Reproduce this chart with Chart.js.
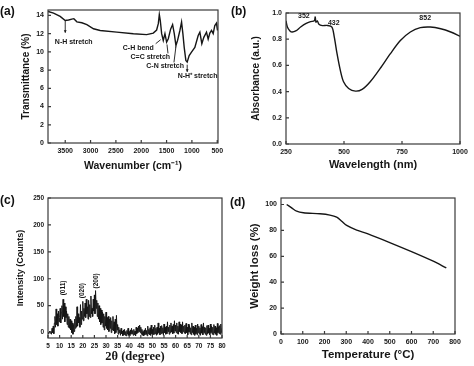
<!DOCTYPE html>
<html>
<head>
<meta charset="utf-8">
<script src="https://cdn.jsdelivr.net/npm/chart.js@4.4.1/dist/chart.umd.min.js"></script>
<style>
  body { margin: 0; background: #fff; width: 474px; height: 366px; position: relative; overflow: hidden; font-family: "Liberation Sans", Arial, sans-serif; }
  canvas { position: absolute; }
  .tag { position: absolute; font-weight: bold; font-size: 12px; color: #111; }
</style>
</head>
<body>
<canvas id="ftir" width="237" height="183" style="left:0;top:0"></canvas>
<canvas id="uv" width="237" height="183" style="left:237px;top:0"></canvas>
<canvas id="xrd" width="237" height="183" style="left:0;top:183px"></canvas>
<canvas id="tga" width="237" height="183" style="left:237px;top:183px"></canvas>
<div class="tag" style="left:0;top:4px">(a)</div>
<div class="tag" style="left:231px;top:4px">(b)</div>
<div class="tag" style="left:0;top:193px">(c)</div>
<div class="tag" style="left:230px;top:195px">(d)</div>
<script>
// (a) FTIR
const ftirWave = [3840, 3730, 3600, 3500, 3434, 3370, 3330, 3270, 3172, 3073, 2942, 2811, 2483, 2155, 1893, 1762, 1696, 1663, 1643, 1624, 1597, 1565, 1532, 1499, 1466, 1420, 1381, 1348, 1315, 1283, 1237, 1204, 1178, 1152, 1119, 1093, 1054, 1008, 942, 876, 843, 804, 765, 712, 679, 646, 613, 580, 548, 515, 495];
const ftirTrans = [14.44, 14.25, 13.9, 13.45, 13.5, 13.6, 13.65, 13.3, 13.2, 13.0, 12.54, 12.35, 12.17, 11.99, 11.9, 12.06, 12.4, 13.1, 14.1, 13.45, 12.0, 11.26, 12.0, 11.07, 11.44, 12.5, 13.0, 12.0, 10.7, 11.26, 12.35, 13.27, 12.0, 10.5, 9.06, 8.88, 9.6, 9.98, 10.5, 11.8, 12.17, 10.9, 11.6, 12.17, 11.4, 12.06, 12.35, 12.0, 12.9, 13.16, 12.35];
const ftirTicksX = [3500, 3000, 2500, 2000, 1500, 1000, 500];
const ftirTicksY = [0, 2, 4, 6, 8, 10, 12, 14];

// (b) UV-vis
const uvWave = [250, 256, 267, 277, 292, 313, 335, 356, 372, 376, 379, 385, 392, 407, 428, 448, 458, 470, 484, 498, 520, 549, 578, 613, 656, 700, 743, 786, 829, 872, 917, 960, 1000];
const uvAbs = [0.94, 0.893, 0.863, 0.855, 0.863, 0.893, 0.919, 0.934, 0.94, 0.97, 0.93, 0.94, 0.914, 0.904, 0.905, 0.893, 0.817, 0.69, 0.564, 0.475, 0.424, 0.404, 0.417, 0.475, 0.577, 0.69, 0.79, 0.855, 0.888, 0.893, 0.88, 0.855, 0.822];
const uvTicksX = [250, 500, 750, 1000];
const uvTicksY = [0, 0.2, 0.4, 0.6, 0.8, 1.0];

// (c) XRD, one value every 0.25 degree from 5 to 80
const xrdCounts = [
  0, -2, 1, 3,   -1, 2, -3, 8,   0, 12, -2, 18,   30, 10, 44, 15,   35, 12, 40, 20,
  28, 45, 18, 38,   50, 25, 62, 30,   55, 20, 48, 28,   40, 15, 35, 10,   30, 8, 25, 5,
  22, 0, 18, -3,   15, 2, 25, 8,   30, 10, 48, 12,   35, 18, 28, 10,   52, 15, 40, 25,
  58, 22, 45, 30,   55, 28, 62, 35,   48, 25, 60, 30,   52, 28, 68, 35,   45, 30, 62, 40,
  70, 35, 78, 45,   60, 30, 55, 25,   50, 20, 45, 15,   42, 18, 38, 10,   35, 5, 30, 12,
  38, 8, 28, 5,   30, 2, 25, 8,   28, 0, 22, 5,   30, 3, 20, -2,   25, 0, 32, 5,
  15, -3, 10, 0,   5, -5, 8, -2,   3, -6, 5, -4,   6, -5, 2, -6,   4, -3, 8, -5,
  2, -6, 5, -3,   8, -2, 4, -5,   6, -4, 3, -6,   10, -2, 8, 0,   12, 2, 14, 0,
  10, -3, 6, -5,   2, -6, 5, -4,   8, -3, 4, -6,   12, -2, 6, -4,   9, -5, 14, -2,
  6, -4, 10, -3,   14, -2, 8, -5,   10, -3, 18, 0,   8, -4, 12, -2,   13, -1, 9, -5,
  16, 0, 10, -3,   12, -2, 20, 2,   10, -3, 14, 0,   18, 1, 12, -2,   15, -1, 22, 3,
  14, 0, 18, -2,   12, -3, 20, 2,   16, 0, 14, -2,   20, 2, 12, -1,   14, -2, 17, 0,
  10, -4, 16, 1,   13, -2, 9, -4,   18, 0, 12, -3,   10, -5, 14, -2,   8, -4, 16, 0,
  12, -3, 9, -5,   15, -1, 11, -4,   18, 0, 10, -3,   9, -5, 13, -2,   14, -1, 8, -4,
  16, 0, 12, -3,   10, -4, 15, -1,   12, -3, 9, -5,   17, 0, 11, -2,   13, -3, 16, 0,
  8
];
const xrdAngle = xrdCounts.map((v, i) => 5 + i * 0.25);
const xrdTicksX = [5, 10, 15, 20, 25, 30, 35, 40, 45, 50, 55, 60, 65, 70, 75, 80];
const xrdTicksY = [0, 50, 100, 150, 200, 250];

// (d) TGA
const tgaTemp = [26, 49, 72, 103, 179, 225, 256, 279, 302, 348, 400, 500, 600, 700, 760];
const tgaWeight = [100, 97.4, 94.8, 93.6, 92.8, 91.8, 90.2, 87.1, 83.8, 80.2, 77.3, 70.6, 63.6, 56.2, 51];
const tgaTicksX = [0, 100, 200, 300, 400, 500, 600, 700, 800];
const tgaTicksY = [0, 20, 40, 60, 80, 100];

const ink = '#161616';

// box round the plot area, with small ticks pointing inward
const frame = {
  id: 'frame',
  afterDatasetsDraw(chart) {
    const { ctx, chartArea: a, scales: { x, y } } = chart;
    ctx.save();
    ctx.strokeStyle = '#3a3a3a';
    ctx.lineWidth = 1.2;
    ctx.strokeRect(a.left, a.top, a.right - a.left, a.bottom - a.top);
    ctx.beginPath();
    x.ticks.forEach(t => {
      const p = x.getPixelForValue(t.value);
      ctx.moveTo(p, a.bottom); ctx.lineTo(p, a.bottom - 3);
    });
    y.ticks.forEach(t => {
      const p = y.getPixelForValue(t.value);
      ctx.moveTo(a.left, p); ctx.lineTo(a.left + 3, p);
    });
    ctx.stroke();
    ctx.restore();
  }
};

// text labels and arrows, placed in data units
const notes = {
  id: 'notes',
  afterDraw(chart, args, opts) {
    const { ctx, scales: { x, y } } = chart;
    ctx.save();
    ctx.fillStyle = ink;
    ctx.strokeStyle = ink;
    ctx.lineWidth = 0.9;
    ctx.font = 'bold ' + (opts.size || 7) + 'px "Liberation Sans", Arial, sans-serif';
    ctx.textAlign = 'center';
    ctx.textBaseline = 'middle';
    (opts.texts || []).forEach(n => {
      const px = x.getPixelForValue(n.x), py = y.getPixelForValue(n.y);
      ctx.save();
      ctx.translate(px, py);
      if (n.rot) ctx.rotate(n.rot);
      ctx.fillText(n.t, 0, 0);
      ctx.restore();
    });
    (opts.lines || []).forEach(l => {
      const x1 = x.getPixelForValue(l.x1), y1 = y.getPixelForValue(l.y1);
      const x2 = x.getPixelForValue(l.x2), y2 = y.getPixelForValue(l.y2);
      ctx.beginPath(); ctx.moveTo(x1, y1); ctx.lineTo(x2, y2); ctx.stroke();
      if (l.head) {
        const ang = Math.atan2(y2 - y1, x2 - x1);
        ctx.beginPath();
        ctx.moveTo(x2, y2);
        ctx.lineTo(x2 - 3 * Math.cos(ang - 0.5), y2 - 3 * Math.sin(ang - 0.5));
        ctx.lineTo(x2 - 3 * Math.cos(ang + 0.5), y2 - 3 * Math.sin(ang + 0.5));
        ctx.closePath(); ctx.fill();
      }
    });
    ctx.restore();
  }
};

function panel(id, o) {
  const tickFont = { size: o.tickSize || 7, weight: 'bold', family: '"Liberation Sans", Arial, sans-serif' };
  return new Chart(document.getElementById(id), {
    type: 'line',
    data: {
      datasets: [{
        data: o.xs.map((v, i) => ({ x: v, y: o.ys[i] })),
        borderColor: ink,
        borderWidth: o.lw,
        pointRadius: 0,
        tension: o.tension || 0
      }]
    },
    options: {
      responsive: false,
      animation: false,
      layout: { padding: { top: o.top, right: o.right, left: 0, bottom: 0 } },
      plugins: { legend: { display: false }, tooltip: { enabled: false }, notes: o.notes || {} },
      scales: {
        x: {
          type: 'linear', reverse: !!o.rev, min: o.xmin, max: o.xmax,
          afterBuildTicks: s => { s.ticks = o.xt.map(v => ({ value: v })); },
          afterFit: s => { s.height = o.xh; },
          grid: { display: false, drawTicks: false }, border: { display: false },
          ticks: { color: ink, font: tickFont, padding: 4, maxRotation: 0, autoSkip: false, callback: v => String(v) },
          title: { display: true, text: o.xTitle, color: ink, font: o.xFont, padding: { top: 0, bottom: o.xPad } }
        },
        y: {
          type: 'linear', min: o.ymin, max: o.ymax,
          afterBuildTicks: s => { s.ticks = o.yt.map(v => ({ value: v })); },
          afterFit: s => { s.width = o.yw; },
          grid: { display: false, drawTicks: false }, border: { display: false },
          ticks: { color: ink, font: tickFont, padding: 4, autoSkip: false, callback: o.yFmt || (v => String(v)) },
          title: { display: true, text: o.yTitle, color: ink, font: o.yFont, padding: { top: o.yPad, bottom: 0 } }
        }
      }
    },
    plugins: [frame, notes]
  });
}

const sans = s => ({ size: s, weight: 'bold', family: '"Liberation Sans", Arial, sans-serif' });

panel('ftir', {
  xs: ftirWave, ys: ftirTrans, lw: 1.4, rev: true,
  xmin: 485, xmax: 3840, ymin: 0, ymax: 14.6, xt: ftirTicksX, yt: ftirTicksY,
  top: 10, right: 19, yw: 48, xh: 40,
  xTitle: 'Wavenumber (cm\u207B\u00B9)', xFont: sans(10.5), xPad: 11,
  yTitle: 'Transmittance (%)', yFont: sans(10), yPad: 20,
  notes: {
    texts: [
      { t: 'N-H stretch', x: 3333, y: 11.04 },
      { t: 'C-H bend', x: 2057, y: 10.38 },
      { t: 'C=C stretch', x: 1821, y: 9.43 },
      { t: 'C-N stretch', x: 1528, y: 8.41 },
      { t: 'N-H\u207A stretch', x: 888, y: 7.31 }
    ],
    lines: [
      { x1: 3500, y1: 13.45, x2: 3500, y2: 12.1, head: true },
      { x1: 1715, y1: 10.9, x2: 1617, y2: 11.34 },
      { x1: 1472, y1: 9.84, x2: 1492, y2: 10.82 },
      { x1: 1354, y1: 8.85, x2: 1315, y2: 10.6 },
      { x1: 1093, y1: 8.6, x2: 1093, y2: 7.8, head: true }
    ]
  }
});

panel('uv', {
  xs: uvWave, ys: uvAbs, lw: 1.4, tension: 0.3,
  xmin: 250, xmax: 1000, ymin: 0, ymax: 1, xt: uvTicksX, yt: uvTicksY,
  top: 13, right: 14, yw: 49, xh: 39,
  xTitle: 'Wavelength (nm)', xFont: sans(11), xPad: 11,
  yTitle: 'Absorbance (a.u.)', yFont: sans(10), yPad: 13,
  yFmt: v => v.toFixed(1),
  notes: {
    texts: [
      { t: '352', x: 327, y: 0.975 },
      { t: '432', x: 456, y: 0.92 },
      { t: '852', x: 850, y: 0.96 }
    ]
  }
});

panel('xrd', {
  xs: xrdAngle, ys: xrdCounts, lw: 1.0, tickSize: 6.5,
  xmin: 5, xmax: 80, ymin: -10, ymax: 250, xt: xrdTicksX, yt: xrdTicksY,
  top: 15, right: 15, yw: 48, xh: 28,
  xTitle: '2\u03B8 (degree)', xFont: { size: 12.5, weight: 'bold', family: '"Liberation Serif", "Times New Roman", serif' }, xPad: 2,
  yTitle: 'Intensity (Counts)', yFont: sans(9), yPad: 15,
  notes: {
    size: 6.5,
    texts: [
      { t: '(011)', x: 11.75, y: 83, rot: -Math.PI / 2 },
      { t: '(020)', x: 19.9, y: 78, rot: -Math.PI / 2 },
      { t: '(200)', x: 25.8, y: 96, rot: -Math.PI / 2 }
    ]
  }
});

panel('tga', {
  xs: tgaTemp, ys: tgaWeight, lw: 1.4, tension: 0.3,
  xmin: 0, xmax: 800, ymin: 0, ymax: 105, xt: tgaTicksX, yt: tgaTicksY,
  top: 15, right: 19, yw: 44, xh: 32,
  xTitle: 'Temperature (\u00B0C)', xFont: sans(11.5), xPad: 4.5,
  yTitle: 'Weight loss (%)', yFont: sans(11.5), yPad: 11
});
</script>
</body>
</html>
